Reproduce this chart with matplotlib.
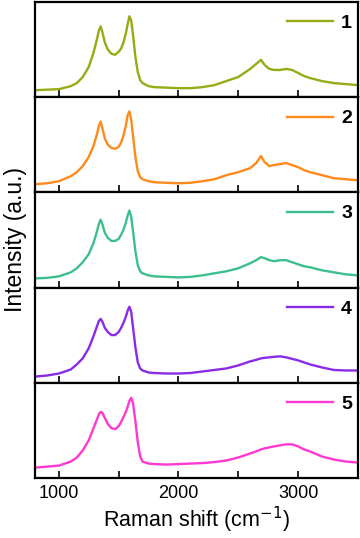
import matplotlib
matplotlib.use('Agg')
import matplotlib.pyplot as plt
from matplotlib.ticker import MultipleLocator

plt.rcParams['font.family'] = ['Liberation Sans', 'DejaVu Sans']

# Raman shift grid (cm-1)
shift = [800, 900, 1000, 1100, 1150, 1200, 1250, 1290, 1320, 1335, 1350, 1365, 1385, 1410,
         1440, 1470, 1500, 1520, 1540, 1560, 1575, 1590, 1605, 1620, 1640, 1660, 1680, 1700,
         1750, 1800, 1900, 2000, 2100, 2200, 2300, 2400, 2500, 2600, 2650, 2690, 2720, 2760,
         2800, 2850, 2900, 2950, 3000, 3050, 3100, 3200, 3300, 3400, 3500]

# intensities (a.u.), one list per sample
sample1 = [7, 7.5, 8, 11, 14, 20, 30, 44, 58, 66, 70, 64, 54, 47,
           43, 42, 45, 48, 54, 63, 72, 80, 76, 62, 40, 25, 17, 14,
           11, 10, 9.5, 9, 9, 10, 12, 16, 20, 28, 33, 37, 32, 28,
           27, 27, 28, 27, 24, 21, 19, 16, 14, 13, 12]
sample2 = [8, 9, 11, 16, 20, 26, 35, 46, 58, 66, 70, 63, 53, 47,
           44, 43, 45, 49, 56, 66, 76, 80, 72, 56, 35, 21, 15, 13,
           11, 10, 9.5, 9, 9.5, 11, 13, 17, 20, 24, 29, 36, 30, 26,
           27, 28, 29, 27, 25, 22, 20, 17, 14, 13, 12]
sample3 = [9, 9.5, 11, 15, 19, 25, 33, 44, 56, 63, 67, 62, 54, 49,
           46, 46, 48, 52, 57, 64, 71, 76, 70, 56, 36, 22, 16, 14,
           12, 11, 10.5, 10, 10.5, 12, 14, 16, 19, 24, 27, 30, 29, 27,
           26, 27, 27, 25, 23, 21, 20, 17, 15, 13, 12]
sample4 = [6, 7, 9, 13, 18, 24, 34, 46, 56, 61, 63, 60, 54, 50,
           47, 47, 50, 54, 59, 65, 71, 75, 70, 55, 35, 20, 14, 12,
           10, 9.5, 9, 9, 9.5, 11, 12.5, 14, 17, 21, 22.5, 24, 24.5, 25,
           25.5, 26, 25, 23.5, 22, 20, 18, 15, 12.5, 12, 12]
sample5 = [10, 11, 12, 16, 20, 27, 37, 49, 58, 63, 65, 64, 59, 53,
           49, 48, 51, 55, 60, 65, 70, 76, 79, 74, 56, 35, 21, 16,
           14, 13.5, 13, 13.5, 14, 14.5, 15.5, 17, 20, 24, 26, 28, 29, 30,
           31, 32, 33, 33, 31, 28, 26, 21, 18, 16, 15]

labels = ['1', '2', '3', '4', '5']
colors = ['#98aa14', '#ff8a1c', '#3cbf8c', '#8a2be6', '#ff38d2']
spectra = [sample1, sample2, sample3, sample4, sample5]

fig, axes = plt.subplots(5, 1, figsize=(3.6, 5.38), dpi=100, sharex=True)
fig.subplots_adjust(left=0.097, right=0.994, top=0.996, bottom=0.112, hspace=0)

for ax, y, c, lab in zip(axes, spectra, colors, labels):
    ax.plot(shift, y, color=c, lw=1.7, label=lab)
    ax.set_xlim(800, 3500)
    ax.set_ylim(0, 94)
    ax.set_yticks([])
    for sp in ax.spines.values():
        sp.set_linewidth(1.6)
    ax.xaxis.set_major_locator(MultipleLocator(1000))
    ax.xaxis.set_minor_locator(MultipleLocator(500))
    ax.tick_params(axis='x', which='both', direction='in', length=5, width=1.2,
                   labelsize=13, pad=5)
    ax.legend(loc='upper right', bbox_to_anchor=(1.0, 0.93), frameon=False,
              handlelength=2.4, handletextpad=0.4, borderpad=0.1, borderaxespad=0.2,
              prop={'weight': 'bold', 'size': 14})

axes[-1].set_xlabel('Raman shift (cm$^{-1}$)', fontsize=15.5, labelpad=2)
fig.text(0.042, 0.554, 'Intensity (a.u.)', rotation=90, fontsize=16.5, ha='center', va='center')

fig.savefig('out.png', dpi=100)
